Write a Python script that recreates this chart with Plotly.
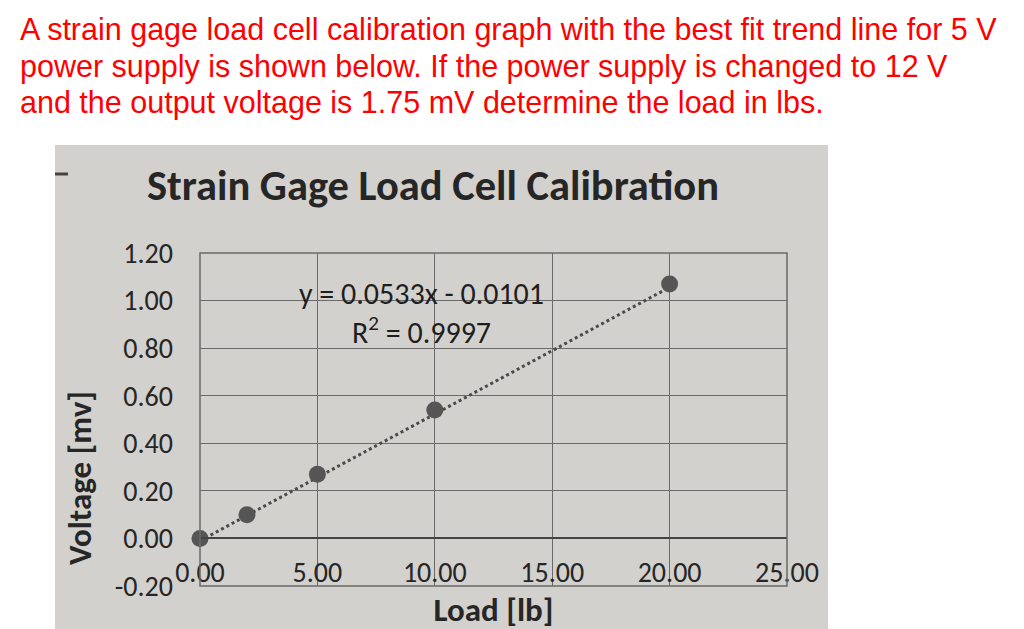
import plotly.graph_objects as go

# ---- data ----
load_lb = [0, 2, 5, 10, 20]
voltage_mv = [0.00, 0.10, 0.27, 0.54, 1.07]
fit_slope = 0.0533
fit_intercept = -0.0101
fit_r2 = 0.9997
x_ticks = [0, 5, 10, 15, 20, 25]
y_ticks = [-0.2, 0.0, 0.2, 0.4, 0.6, 0.8, 1.0, 1.2]
x_ticktext = [f"{v:.2f}" for v in x_ticks]
y_ticktext = [f"{v:.2f}" for v in y_ticks]

question_lines = [
    "A strain gage load cell calibration graph with the best fit trend line for 5 V",
    "power supply is shown below. If the power supply is changed to 12 V",
    "and the output voltage is 1.75 mV determine the load in lbs.",
]
chart_title = "Strain Gage Load Cell Calibration"
x_title = "Load [lb]"
y_title = "Voltage [mv]"

# ---- figure geometry (page has an 8px body margin) ----
W, H = 1024, 629
OFF = 8
PLOT_L, PLOT_R, PLOT_T, PLOT_B = 200, 787, 253, 586  # in page pixels
L = PLOT_L - OFF
R = W - (PLOT_R - OFF)
T = PLOT_T - OFF
B = H - (PLOT_B - OFF)
pw, ph = W - L - R, H - T - B


def px_x(p):
    return (p - OFF - L) / pw


def px_y(p):
    return (H - B - (p - OFF)) / ph


FONT = "Carlito, Lato, 'Open Sans', sans-serif"
INK = "#262626"
GRID = "#6a6a6a"

trend_x = [min(load_lb), max(load_lb)]
trend_y = [fit_slope * v + fit_intercept for v in trend_x]

fig = go.Figure()
fig.add_trace(go.Scatter(
    x=trend_x, y=trend_y, mode="lines",
    line=dict(color="#4a4a4a", width=3, dash="dot"),
    hoverinfo="skip", showlegend=False,
))
fig.add_trace(go.Scatter(
    x=load_lb, y=voltage_mv, mode="markers",
    marker=dict(size=17, color="#555555", line=dict(width=0)),
    cliponaxis=False,
    showlegend=False,
))

y0_frac = (0 - y_ticks[0]) / (y_ticks[-1] - y_ticks[0])

fig.update_layout(
    width=W, height=H,
    margin=dict(l=L, r=R, t=T, b=B),
    paper_bgcolor="white",
    plot_bgcolor="rgba(0,0,0,0)",
    font=dict(family=FONT, color=INK),
    xaxis=dict(
        range=[x_ticks[0], x_ticks[-1]],
        tickvals=x_ticks, ticktext=x_ticktext,
        showgrid=True, gridcolor=GRID, gridwidth=1,
        zeroline=False,
        showline=True, linecolor="#444444", linewidth=2,
        anchor="free", position=y0_frac,
        ticks="", ticklabelstandoff=9,
        tickfont=dict(size=28, family=FONT, color=INK),
        title=dict(text="<b>" + x_title + "</b>", font=dict(size=33, family=FONT, color=INK), standoff=1),
    ),
    yaxis=dict(
        range=[y_ticks[0], y_ticks[-1]],
        tickvals=y_ticks, ticktext=y_ticktext,
        showgrid=True, gridcolor=GRID, gridwidth=1,
        zeroline=False, showline=False,
        ticks="", ticklabelstandoff=26,
        tickfont=dict(size=28, family=FONT, color=INK),
    ),
    shapes=[
        dict(type="rect", xref="paper", yref="paper",
             x0=px_x(55), x1=px_x(828), y0=px_y(650), y1=px_y(145),
             fillcolor="#d3d1cd", line=dict(width=0), layer="below"),
        dict(type="rect", xref="x domain", yref="y domain",
             x0=0, x1=1, y0=0, y1=1,
             line=dict(color=GRID, width=1.5), layer="above"),
        dict(type="line", xref="paper", yref="paper",
             x0=px_x(55), x1=px_x(68), y0=px_y(174), y1=px_y(174),
             line=dict(color="#444444", width=3)),
    ],
)

red_font = dict(family="Liberation Sans, Arial, sans-serif", size=30.5, color="#ff0000")
for line_text, yc in zip(question_lines, [29, 66, 103]):
    fig.add_annotation(text=line_text, xref="paper", yref="paper",
                       x=px_x(18), y=px_y(yc), xanchor="left", yanchor="middle",
                       align="left", showarrow=False, font=red_font)

fig.add_annotation(text="<b>" + chart_title + "</b>", xref="paper", yref="paper",
                   x=px_x(433), y=px_y(185), xanchor="center", yanchor="middle",
                   showarrow=False, font=dict(family=FONT, size=42.5, color=INK))
fig.add_annotation(text="<b>" + y_title + "</b>", xref="paper", yref="paper",
                   x=px_x(80), y=px_y(478), xanchor="center", yanchor="middle", textangle=-90,
                   showarrow=False, font=dict(family=FONT, size=33, color=INK))
eq_font = dict(family=FONT, size=30, color="#1e1e1e")
fig.add_annotation(text=f"y = {fit_slope:.4f}x - {abs(fit_intercept):.4f}", xref="paper", yref="paper",
                   x=px_x(421), y=px_y(293), xanchor="center", yanchor="middle",
                   showarrow=False, font=eq_font)
fig.add_annotation(text=f"R<sup>2</sup> = {fit_r2:.4f}", xref="paper", yref="paper",
                   x=px_x(421), y=px_y(330), xanchor="center", yanchor="middle",
                   showarrow=False, font=eq_font)

fig.write_html("out.html")
